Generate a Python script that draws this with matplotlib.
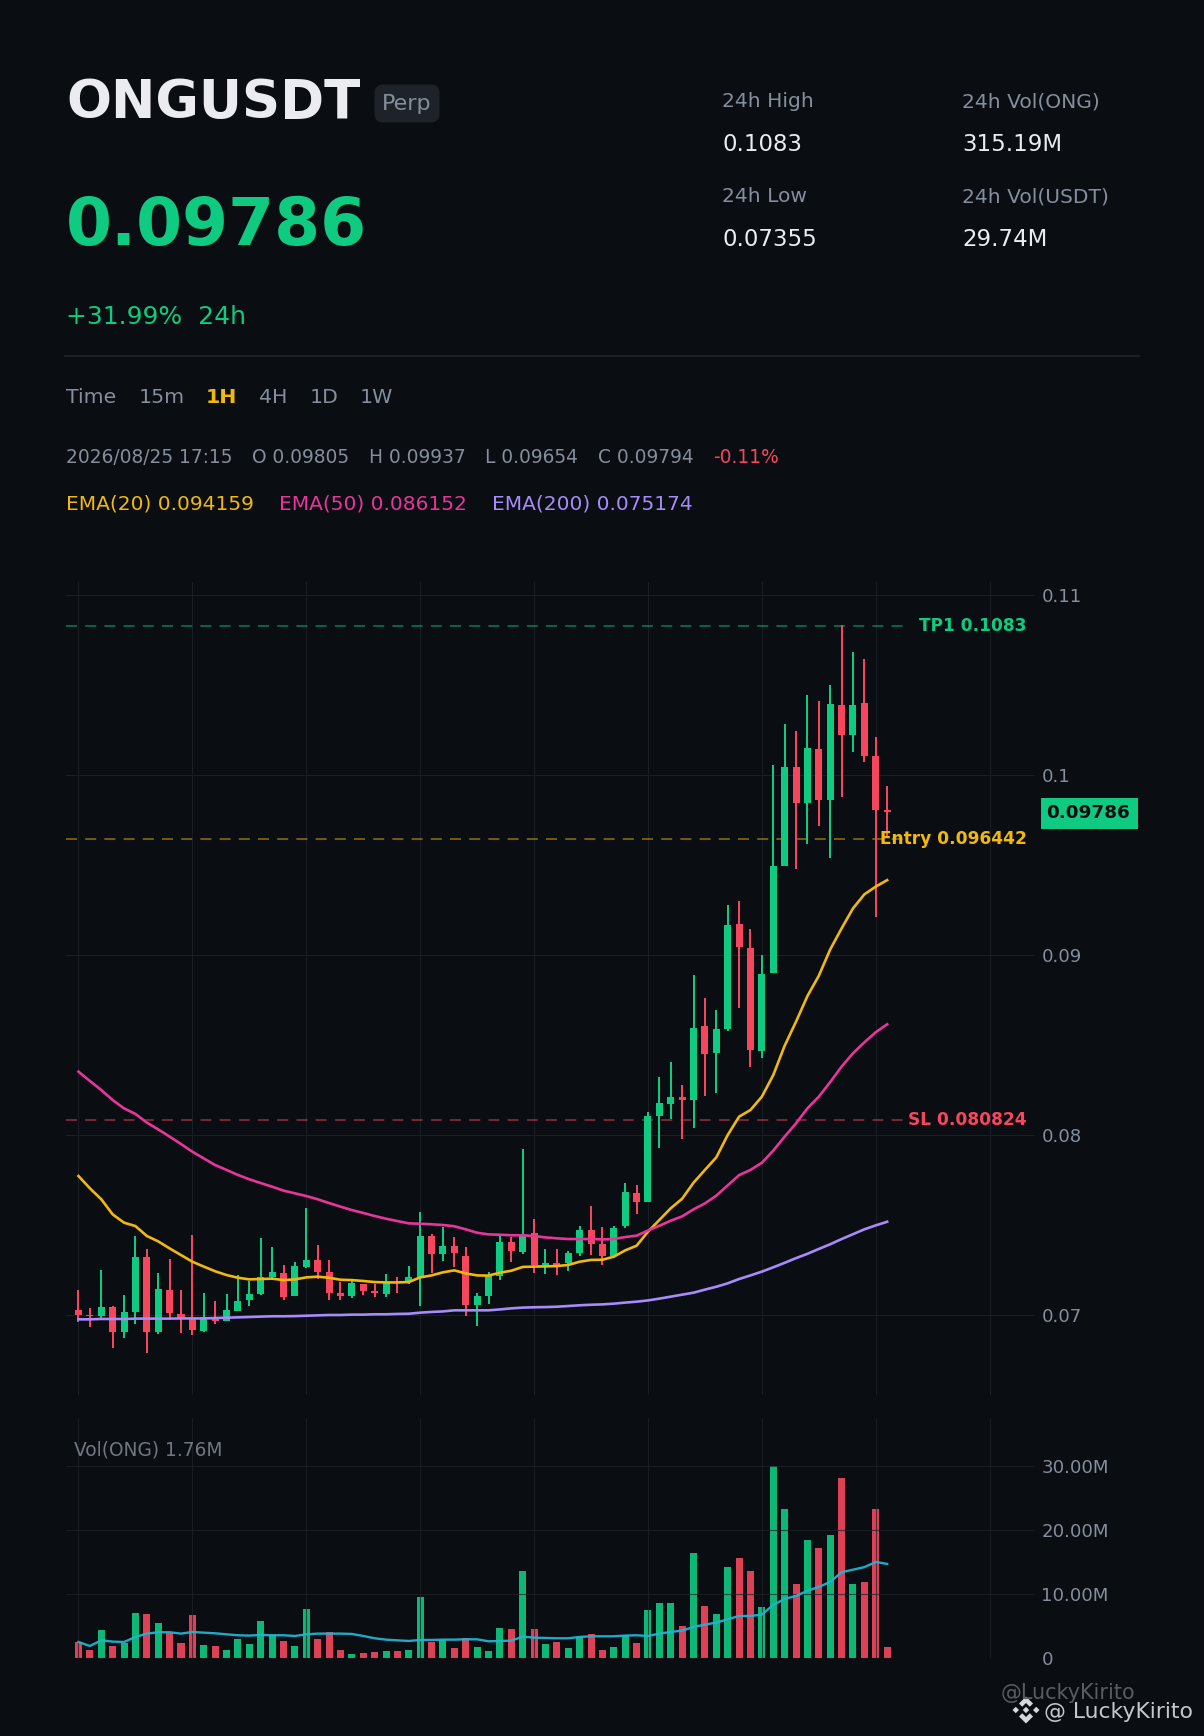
import matplotlib
matplotlib.use('Agg')
import numpy as np
import matplotlib.pyplot as plt
from matplotlib.patches import Rectangle, FancyBboxPatch, Polygon

# candles, one hour each
opens = [.07028,.07000,.06994,.07044,.06906,.07017,.07322,.06906,.07139,.07006,.06978,.06911,.06978,.06967,.07022,.07083,.07117,.07211,
         .07233,.07106,.07267,.07306,.07239,.07122,.07106,.07172,.07133,.07117,.07185,.07183,.07211,.07439,.07339,.07383,.07328,.07056,
         .07106,.07217,.07406,.07350,.07456,.07278,.07289,.07289,.07344,.07472,.07394,.07328,.07494,.07678,.07628,.08106,.08172,.08211,
         .08194,.08606,.08456,.08589,.09172,.09039,.08467,.08900,.09494,.10044,.09844,.10144,.09861,.10389,.10222,.10400,.10106,.09805]
closes = [.07000,.06996,.07044,.06906,.07017,.07322,.06906,.07144,.07011,.06983,.06917,.06989,.06967,.07028,.07078,.07117,.07211,.07239,
          .07100,.07272,.07306,.07239,.07122,.07106,.07178,.07133,.07122,.07178,.07178,.07211,.07439,.07339,.07383,.07344,.07056,.07106,
          .07217,.07406,.07356,.07450,.07278,.07289,.07278,.07344,.07472,.07394,.07328,.07483,.07683,.07628,.08106,.08178,.08211,.08194,
          .08594,.08450,.08589,.09167,.09044,.08472,.08894,.09494,.10044,.09844,.10150,.09861,.10394,.10222,.10389,.10106,.09805,.09794]
highs = [.07139,.07039,.07250,.07050,.07111,.07439,.07367,.07233,.07311,.07139,.07444,.07122,.07078,.07117,.07222,.07189,.07428,.07378,
         .07278,.07294,.07594,.07389,.07306,.07183,.07189,.07172,.07172,.07228,.07211,.07272,.07572,.07450,.07489,.07433,.07378,.07122,
         .07239,.07439,.07433,.07922,.07533,.07367,.07367,.07356,.07494,.07606,.07489,.07494,.07733,.07722,.08128,.08322,.08406,.08278,
         .08889,.08761,.08694,.09278,.09300,.09144,.09000,.10056,.10283,.10244,.10444,.10411,.10500,.10833,.10683,.10644,.10211,.09937]
lows = [.06963,.06935,.06983,.06819,.06872,.06950,.06789,.06894,.06983,.06900,.06889,.06906,.06950,.06967,.07022,.07050,.07111,.07200,
        .07083,.07106,.07261,.07200,.07083,.07083,.07094,.07111,.07100,.07100,.07122,.07172,.07050,.07233,.07300,.07267,.06994,.06939,
        .07061,.07194,.07294,.07339,.07233,.07228,.07222,.07244,.07328,.07333,.07278,.07324,.07483,.07561,.07628,.07928,.08089,.07978,
        .08039,.08217,.08233,.08578,.08706,.08378,.08428,.08900,.09494,.09478,.09617,.09717,.09539,.09878,.10128,.10072,.09211,.09654]

ema20 = [.07772,.07704,.07643,.07559,.07513,.07494,.07439,.07409,.07370,.07333,.07296,.07269,.07243,.07222,.07207,.07198,.07200,.07202,
         .07194,.07198,.07209,.07213,.07207,.07196,.07194,.07189,.07183,.07181,.07181,.07183,.07209,.07220,.07237,.07248,.07231,.07220,
         .07219,.07235,.07246,.07267,.07269,.07270,.07272,.07278,.07296,.07306,.07307,.07324,.07359,.07385,.07463,.07528,.07593,.07646,
         .07735,.07806,.07876,.08000,.08102,.08139,.08213,.08333,.08496,.08630,.08772,.08885,.09031,.09148,.09259,.09337,.09380,.09416]
ema50 = [.08352,.08300,.08250,.08194,.08148,.08117,.08069,.08031,.07991,.07950,.07907,.07870,.07833,.07806,.07778,.07754,.07733,.07713,
         .07691,.07676,.07661,.07643,.07622,.07602,.07583,.07567,.07550,.07535,.07522,.07509,.07507,.07504,.07500,.07493,.07476,.07457,
         .07448,.07446,.07443,.07443,.07439,.07431,.07426,.07422,.07422,.07422,.07420,.07422,.07433,.07441,.07469,.07496,.07524,.07548,
         .07587,.07620,.07663,.07720,.07777,.07806,.07846,.07913,.07991,.08065,.08148,.08213,.08294,.08380,.08454,.08515,.08571,.08615]
ema200 = [.06976,.06976,.06978,.06978,.06978,.06980,.06980,.06980,.06980,.06981,.06981,.06981,.06983,.06985,.06987,.06989,.06991,.06993,
          .06993,.06994,.06996,.06998,.07000,.07000,.07002,.07002,.07004,.07004,.07006,.07007,.07013,.07017,.07020,.07026,.07026,.07026,
          .07026,.07031,.07037,.07041,.07043,.07044,.07046,.07050,.07054,.07057,.07059,.07063,.07069,.07074,.07081,.07091,.07102,.07113,
          .07124,.07141,.07157,.07176,.07200,.07220,.07241,.07265,.07290,.07316,.07340,.07367,.07393,.07422,.07449,.07476,.07498,.07518]

# volume in millions
vol = [2.50,1.25,4.38,1.88,2.35,7.04,6.89,5.48,3.91,2.35,6.73,2.03,1.88,1.25,2.97,2.19,5.79,3.60,2.66,1.88,7.67,2.97,4.07,1.25,0.63,0.78,
       0.94,1.10,1.10,1.25,9.55,2.50,2.82,1.56,3.13,1.72,1.10,4.69,4.54,13.6,4.54,2.19,2.50,1.56,3.29,3.76,1.25,1.72,3.60,2.35,7.51,8.61,
       8.61,5.01,16.4,8.14,6.89,14.2,15.6,13.6,7.98,30.0,23.3,11.6,18.5,17.2,19.2,28.2,11.6,11.9,23.3,1.76]
vol_ma = [2.50,1.88,2.76,2.56,2.50,3.29,3.81,4.02,4.02,3.81,4.07,3.96,3.86,3.70,3.55,3.50,3.60,3.55,3.55,3.44,3.70,3.81,3.81,3.81,3.76,3.44,
          3.08,2.87,2.76,2.66,2.82,2.82,2.87,2.87,2.92,2.92,2.61,2.66,2.71,3.34,3.18,3.13,3.08,3.08,3.29,3.39,3.39,3.39,3.50,3.55,3.44,3.81,
          4.07,4.28,4.85,5.22,5.53,6.05,6.57,6.57,6.78,8.29,9.23,9.70,10.5,11.1,11.9,13.4,13.8,14.2,15.0,14.7]

price_ticks = [0.07, 0.08, 0.09, 0.10, 0.11]
price_labels = ['0.07', '0.08', '0.09', '0.1', '0.11']
vol_ticks = [0, 10, 20, 30]
vol_labels = ['0', '10.00M', '20.00M', '30.00M']
time_ticks = [0, 10, 20, 30, 40, 50, 60, 70, 80]
tp1 = 0.1083
entry = 0.096442
sl = 0.080824
last_price = 0.09786

BG = '#0a0d11'
UP = '#0ecb81'
DOWN = '#f6465d'
AMBER = '#f0b90b'
PINK = '#e8359b'
PURPLE = '#a78bfa'
CYAN = '#22b3d1'
GRAY = '#848e9c'
GRID = '#1a1e25'

W, H = 1204, 1736
fig = plt.figure(figsize=(W / 100, H / 100), dpi=100, facecolor=BG)


def panel(top, bottom):
    # pixel box to figure fraction
    left, right = 66, 1035
    a = fig.add_axes([left / W, 1 - bottom / H, (right - left) / W, (bottom - top) / H], facecolor=BG)
    a.set_xlim(-1.097, 83.98)
    for s in a.spines.values():
        s.set_visible(False)
    a.set_xticks(time_ticks)
    a.tick_params(axis='x', length=0, labelbottom=False)
    a.yaxis.tick_right()
    a.tick_params(axis='y', length=0, pad=4.6, labelsize=18.2 * 0.72, labelcolor=GRAY)
    return a


x = np.arange(len(opens))
is_up = np.array(closes) >= np.array(opens)
colors = [UP if u else DOWN for u in is_up]

# price panel
ax = panel(582, 1395)
ax.set_ylim(0.065556, 0.110722)
ax.set_yticks(price_ticks)
ax.set_yticklabels(price_labels)
ax.grid(True, color=GRID, lw=0.8, zorder=0)
ax.set_axisbelow(True)

dash = (0, (5.5, 4.1))
for level, col in [(tp1, UP), (entry, AMBER), (sl, DOWN)]:
    ax.plot([-1.097, 72.56], [level, level], color=col, alpha=0.45, lw=1.44, linestyle=dash, zorder=1)

ax.vlines(x, lows, highs, colors=colors, lw=1.44, zorder=2)
body_bottom = np.minimum(opens, closes)
body_height = np.abs(np.array(closes) - np.array(opens))
ax.bar(x, body_height, bottom=body_bottom, width=0.615, color=colors, zorder=3)

ax.plot(x, ema20, color=AMBER, lw=1.9, zorder=4)
ax.plot(x, ema50, color=PINK, lw=1.9, zorder=4)
ax.plot(x, ema200, color=PURPLE, lw=1.9, zorder=4)

for level, col, txt in [(tp1, UP, 'TP1 0.1083'), (entry, AMBER, 'Entry 0.096442'), (sl, DOWN, 'SL 0.080824')]:
    ax.text(0.9914, level, txt, transform=ax.get_yaxis_transform(), ha='right', va='center',
            color=col, fontsize=17 * 0.72, fontweight='bold', zorder=6)

# volume panel
ax2 = panel(1418, 1658)
ax2.set_ylim(0, 37.5)
ax2.set_yticks(vol_ticks)
ax2.set_yticklabels(vol_labels)
ax2.bar(x, vol, width=0.615, color=colors, alpha=0.9, zorder=2)
ax2.grid(True, color='#1e2329', alpha=0.75, lw=0.8, zorder=3)
ax2.set_axisbelow(False)
ax2.plot(x, vol_ma, color=CYAN, lw=1.7, alpha=0.95, zorder=4)

# header and overlays work in plain pixels
ov = fig.add_axes([0, 0, 1, 1], facecolor='none', zorder=10)
ov.set_xlim(0, W)
ov.set_ylim(H, 0)
ov.axis('off')


def put(px, py, s, size, color, weight='normal', **kw):
    ov.text(px, py, s, fontsize=size * 0.72, color=color, fontweight=weight, va='baseline', **kw)


put(66, 118.3, 'ONGUSDT', 53, '#eaecef', 'bold')
ov.add_patch(FancyBboxPatch((379, 89), 56, 29, boxstyle='round,pad=0,rounding_size=4', mutation_aspect=1,
                            fc='#1e2329', ec='#1e2329', lw=9 * 0.72))
put(381.5, 109.5, 'Perp', 22.3, GRAY)
put(66, 244.5, '0.09786', 66.3, UP, 'bold')
put(66, 324.3, '+31.99%  24h', 25, UP)
ov.plot([65.3, 1139], [355.7, 355.7], color='#1f2530', lw=1.2)

put(722, 107, '24h High', 20.3, GRAY)
put(722, 151, '0.1083', 22.9, '#eaecef')
put(722, 202.4, '24h Low', 20.3, GRAY)
put(722, 246.3, '0.07355', 22.9, '#eaecef')
put(962.5, 107, '24h Vol(ONG)', 20.3, GRAY)
put(962.5, 151, '315.19M', 22.9, '#eaecef')
put(962.5, 202.4, '24h Vol(USDT)', 20.3, GRAY)
put(962.5, 246.3, '29.74M', 22.9, '#eaecef')

put(66, 403.3, 'Time', 20.5, GRAY)
put(138.5, 403.3, '15m', 20.5, GRAY)
put(206, 403.3, '1H', 20.5, AMBER, 'bold')
put(259, 403.3, '4H', 20.5, GRAY)
put(310, 403.3, '1D', 20.5, GRAY)
put(359.5, 403.3, '1W', 20.5, GRAY)

put(66, 462.7, '2026/08/25 17:15', 18.7, GRAY)
put(252, 462.7, 'O 0.09805', 18.7, GRAY)
put(369, 462.7, 'H 0.09937', 18.7, GRAY)
put(485, 462.7, 'L 0.09654', 18.7, GRAY)
put(598, 462.7, 'C 0.09794', 18.7, GRAY)
put(713, 462.7, '-0.11%', 18.7, DOWN)

put(66, 510, 'EMA(20) 0.094159', 20.2, AMBER)
put(279, 510, 'EMA(50) 0.086152', 20.2, PINK)
put(492, 510, 'EMA(200) 0.075174', 20.2, PURPLE)

# last price tag
ov.add_patch(Rectangle((1040.5, 798), 97, 30.7, fc=UP, ec='none'))
put(1046.5, 818, '0.09786', 18.4, '#0b0e11', 'bold')

put(74, 1456, 'Vol(ONG) 1.76M', 18.7, '#6f7782')

# watermark
put(1001, 1699, '@LuckyKirito', 20.8, '#585c63')
cx, cy, r = 1026, 1710, 13.5
logo = [[(0, -.24), (.24, 0), (0, .24), (-.24, 0)],
        [(-.76, -.24), (-.52, 0), (-.76, .24), (-1, 0)],
        [(.76, -.24), (1, 0), (.76, .24), (.52, 0)],
        [(0, -1), (.52, -.48), (.28, -.24), (0, -.52), (-.28, -.24), (-.52, -.48)],
        [(0, 1), (.52, .48), (.28, .24), (0, .52), (-.28, .24), (-.52, .48)]]
for pts in logo:
    ov.add_patch(Polygon([(cx + px * r, cy + py * r) for px, py in pts], closed=True, fc='#d5d8dc', ec='none'))
put(1044.5, 1718, '@ LuckyKirito', 21.9, '#c4c8ce')

fig.savefig('out.png', dpi=100, facecolor=BG)
